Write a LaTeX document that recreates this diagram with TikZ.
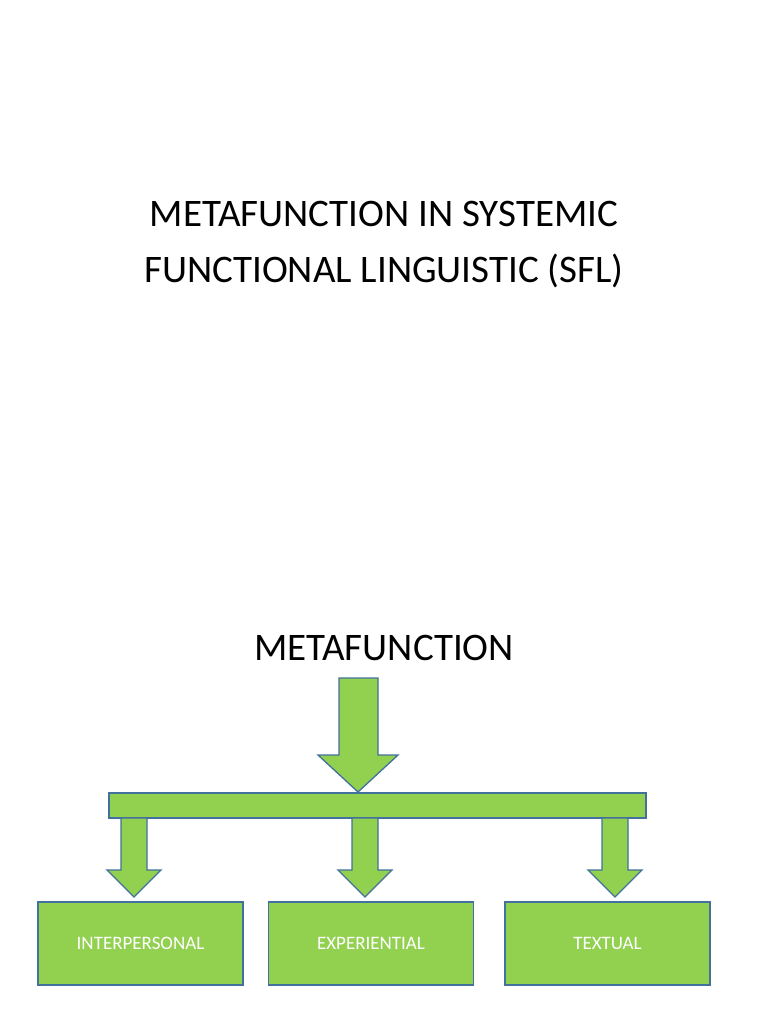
\documentclass[tikz,border=0pt]{standalone}
\usepackage{fontspec}
\setmainfont{Carlito}
\definecolor{gfill}{HTML}{92D050}
\definecolor{gline}{HTML}{41719C}
\begin{document}
\begin{tikzpicture}[x=1pt,y=-1pt,
  shp/.style={fill=gfill,draw=gline,line width=1.3pt,line join=miter},
  lbox/.style={shp,minimum width=205pt,minimum height=83pt,inner sep=0pt,text=white,font=\fontsize{19}{22}\selectfont}]
\useasboundingbox (0,0) rectangle (768,1024);
\node (title) at (384,245) [align=center,font=\fontsize{39}{56}\selectfont] {METAFUNCTION IN SYSTEMIC\\FUNCTIONAL LINGUISTIC (SFL)};
\node (meta) at (384,648) [font=\fontsize{39}{46}\selectfont] {METAFUNCTION};
\draw[shp] (339,678) -- (378,678) -- (378,755) -- (398,755) -- (358,792) -- (318,755) -- (339,755) -- cycle;
\draw[shp] (109,793) rectangle (646,818);
\foreach \c in {134,365,615}{
  \draw[shp] (\c-13,818) -- (\c+13,818) -- (\c+13,870) -- (\c+27,870) -- (\c,897) -- (\c-27,870) -- (\c-13,870) -- cycle;
}
\node[lbox] (inter) at (140.5,943.5) {INTERPERSONAL};
\node[lbox] (exp) at (371,943.5) {EXPERIENTIAL};
\node[lbox] (text) at (607.5,943.5) {TEXTUAL};
\end{tikzpicture}
\end{document}
